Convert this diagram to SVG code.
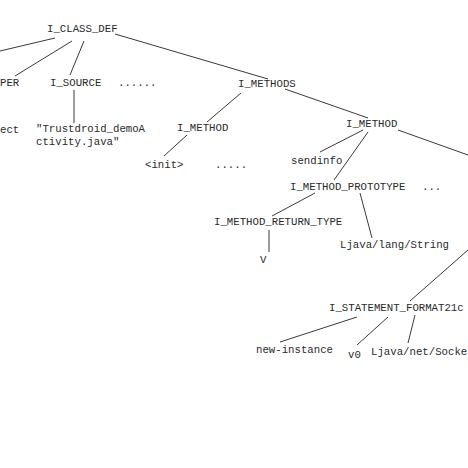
<svg xmlns="http://www.w3.org/2000/svg" width="468" height="468" viewBox="0 0 468 468">
  <style>
    .lbl { font-family: "Liberation Mono", "Courier New", monospace; font-size: 10.7px; fill: #2a2a2a; }
    .edge { stroke: #3a3a3a; stroke-width: 1; fill: none; }
  </style>
  <rect width="468" height="468" fill="#ffffff"/>

  <g id="connectors">
    <line class="edge" x1="55" y1="38" x2="0" y2="51"/>
    <line class="edge" x1="72" y1="41" x2="15" y2="76"/>
    <line class="edge" x1="84" y1="41" x2="70" y2="75"/>
    <line class="edge" x1="115" y1="34" x2="268" y2="79"/>
    <line class="edge" x1="74" y1="90" x2="74" y2="123"/>
    <line class="edge" x1="241" y1="93" x2="207" y2="122"/>
    <line class="edge" x1="187" y1="135" x2="164" y2="156"/>
    <line class="edge" x1="285" y1="89" x2="368" y2="118"/>
    <line class="edge" x1="398" y1="130" x2="468" y2="155"/>
    <line class="edge" x1="363" y1="130" x2="320" y2="152"/>
    <line class="edge" x1="368" y1="132" x2="334" y2="180"/>
    <line class="edge" x1="315" y1="193" x2="272" y2="216"/>
    <line class="edge" x1="269" y1="230" x2="269" y2="252"/>
    <line class="edge" x1="360" y1="193" x2="372" y2="238"/>
    <line class="edge" x1="468" y1="250" x2="410" y2="301"/>
    <line class="edge" x1="357" y1="317" x2="280" y2="342"/>
    <line class="edge" x1="388" y1="317" x2="357" y2="345"/>
    <line class="edge" x1="415" y1="315" x2="408" y2="343"/>
  </g>

  <g id="class-def"><text class="lbl" x="47" y="32">I_CLASS_DEF</text></g>
  <g id="super"><text class="lbl" x="0" y="86">PER</text></g>
  <g id="super-value"><text class="lbl" x="0" y="133">ect</text></g>
  <g id="source"><text class="lbl" x="50" y="86">I_SOURCE</text></g>
  <g id="source-value">
    <text class="lbl" x="36" y="132">"Trustdroid_demoA</text>
    <text class="lbl" x="36" y="145">ctivity.java"</text>
  </g>
  <g id="class-more"><text class="lbl" x="118" y="86">......</text></g>
  <g id="methods"><text class="lbl" x="238" y="87">I_METHODS</text></g>
  <g id="method-init"><text class="lbl" x="177" y="131">I_METHOD</text></g>
  <g id="init-name"><text class="lbl" x="145" y="168">&lt;init&gt;</text></g>
  <g id="init-more"><text class="lbl" x="215" y="168">.....</text></g>
  <g id="method-sendinfo"><text class="lbl" x="346" y="127">I_METHOD</text></g>
  <g id="sendinfo-name"><text class="lbl" x="291" y="164">sendinfo</text></g>
  <g id="prototype"><text class="lbl" x="290" y="190">I_METHOD_PROTOTYPE</text></g>
  <g id="prototype-more"><text class="lbl" x="422" y="190">...</text></g>
  <g id="return-type"><text class="lbl" x="214" y="225">I_METHOD_RETURN_TYPE</text></g>
  <g id="return-value"><text class="lbl" x="260" y="263">V</text></g>
  <g id="param-type"><text class="lbl" x="340" y="248">Ljava/lang/String</text></g>
  <g id="statement"><text class="lbl" x="329" y="311">I_STATEMENT_FORMAT21c</text></g>
  <g id="opcode"><text class="lbl" x="256" y="353">new-instance</text></g>
  <g id="register"><text class="lbl" x="348" y="358">v0</text></g>
  <g id="class-ref"><text class="lbl" x="371" y="355">Ljava/net/Socke</text></g>
</svg>
